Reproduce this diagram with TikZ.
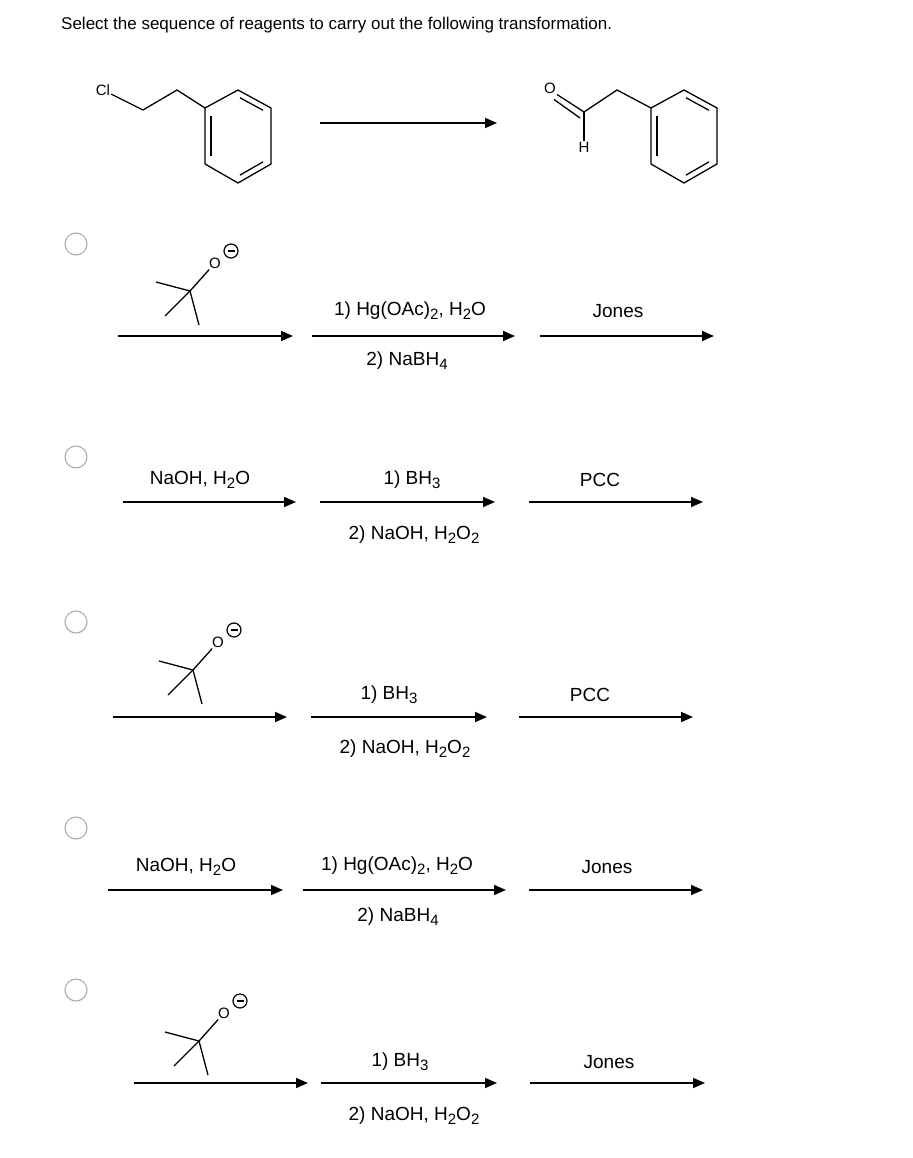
\documentclass[tikz,border=0pt]{standalone}
\usepackage{fontspec}
\setmainfont{Liberation Sans}
\usetikzlibrary{arrows.meta,calc}
\newcommand{\subs}[1]{\raisebox{-0.35ex}{\fontsize{15}{15}\selectfont #1}}
\tikzset{
  rx/.style={line width=1.6pt,-{Triangle[length=12pt,width=10pt]}},
  bond/.style={line width=1.3pt},
  lbl/.style={font=\fontsize{19}{22}\selectfont, inner sep=0pt},
  atom/.style={font=\fontsize{15}{16}\selectfont, inner sep=1pt},
  radio/.style={draw=gray!70, line width=1pt, fill=white, circle, minimum size=22pt, inner sep=0pt},
}
\newcommand{\tbuo}[3]{% name, x, y
  \coordinate (#1c) at (#2,#3);
  \draw[bond] (#1c) -- ++(-34,-9);
  \draw[bond] (#1c) -- ++(-25,25);
  \draw[bond] (#1c) -- ++(9,34);
  \node[atom] (#1o) at ($(#1c)+(25,-28)$) {O};
  \draw[bond] (#1c) -- (#1o);
  \node[draw, circle, line width=1.2pt, minimum size=14pt, inner sep=0pt] (#1m) at ($(#1c)+(41,-40)$) {};
  \draw[line width=1.5pt] ($(#1m)+(-3.5,0)$) -- ($(#1m)+(3.5,0)$);
}
\begin{document}
\begin{tikzpicture}[x=1pt,y=-1pt]
\useasboundingbox (0,0) rectangle (912,1158);
\node[anchor=west, font=\fontsize{17}{20}\selectfont, inner sep=0pt] (title) at (61,25) {Select the sequence of reagents to carry out the following transformation.};
% starting material
\node[atom] (cl) at (103,90) {Cl};
\coordinate (a1) at (143,110);
\coordinate (a2) at (177,90);
\coordinate (r1) at (205,108);
\coordinate (r0) at (238,90);
\coordinate (r5) at (271,108);
\coordinate (r4) at (271,164);
\coordinate (r3) at (238,183);
\coordinate (r2) at (205,164);
\draw[bond] (cl) -- (a1) -- (a2) -- (r1);
\draw[bond] (r0)--(r1)--(r2)--(r3)--(r4)--(r5)--cycle;
\draw[bond] ($(r1)!0.15!(r2)+(6,0)$) -- ($(r2)!0.15!(r1)+(6,0)$);
\draw[bond] ($(r3)!0.15!(r4)+(-3,-5)$) -- ($(r4)!0.15!(r3)+(-3,-5)$);
\draw[bond] ($(r5)!0.15!(r0)+(-3,5)$) -- ($(r0)!0.15!(r5)+(-3,5)$);
\coordinate (ma) at (320,123); \coordinate (mb) at (497,123);
\draw[rx] (ma) -- (mb);
% product
\node[atom] (po) at (550,88) {O};
\coordinate (pc) at (584,112);
\node[atom] (ph) at (584,147) {H};
\coordinate (p1) at (617,90);
\coordinate (s1) at (651,108);
\coordinate (s0) at (684,90);
\coordinate (s5) at (717,108);
\coordinate (s4) at (717,164);
\coordinate (s3) at (684,183);
\coordinate (s2) at (651,164);
\draw[bond] (po.south east) -- (pc);
\draw[bond] ($(po.south east)+(-3,5)$) -- ($(pc)+(-4,6)$);
\draw[bond] (pc) -- (ph) ;
\draw[bond] (pc) -- (p1) -- (s1);
\draw[bond] (s0)--(s1)--(s2)--(s3)--(s4)--(s5)--cycle;
\draw[bond] ($(s1)!0.15!(s2)+(6,0)$) -- ($(s2)!0.15!(s1)+(6,0)$);
\draw[bond] ($(s3)!0.15!(s4)+(-3,-5)$) -- ($(s4)!0.15!(s3)+(-3,-5)$);
\draw[bond] ($(s5)!0.15!(s0)+(-3,5)$) -- ($(s0)!0.15!(s5)+(-3,5)$);
% option 1
\node[radio] (o1) at (76,244) {};
\tbuo{t1}{190}{291}
\coordinate (a11) at (118,336); \coordinate (b11) at (293,336); \draw[rx] (a11)--(b11);
\coordinate (a12) at (312,336); \coordinate (b12) at (515,336); \draw[rx] (a12)--(b12);
\coordinate (a13) at (540,336); \coordinate (b13) at (714,336); \draw[rx] (a13)--(b13);
\node[lbl] (l12a) at (410,311) {1) Hg(OAc)\subs2, H\subs2O};
\node[lbl] (l12b) at (407,361) {2) NaBH\subs4};
\node[lbl] (l13) at (618,311) {Jones};
% option 2
\node[radio] (o2) at (76,457) {};
\coordinate (a21) at (123,502); \coordinate (b21) at (296,502); \draw[rx] (a21)--(b21);
\coordinate (a22) at (320,502); \coordinate (b22) at (495,502); \draw[rx] (a22)--(b22);
\coordinate (a23) at (529,502); \coordinate (b23) at (703,502); \draw[rx] (a23)--(b23);
\node[lbl] (l21) at (200,480) {NaOH, H\subs2O};
\node[lbl] (l22a) at (412,480) {1) BH\subs3};
\node[lbl] (l22b) at (414,535) {2) NaOH, H\subs2O\subs2};
\node[lbl] (l23) at (600,480) {PCC};
% option 3
\node[radio] (o3) at (76,622) {};
\tbuo{t3}{193}{670}
\coordinate (a31) at (113,717); \coordinate (b31) at (287,717); \draw[rx] (a31)--(b31);
\coordinate (a32) at (311,717); \coordinate (b32) at (487,717); \draw[rx] (a32)--(b32);
\coordinate (a33) at (519,717); \coordinate (b33) at (693,717); \draw[rx] (a33)--(b33);
\node[lbl] (l32a) at (389,695) {1) BH\subs3};
\node[lbl] (l32b) at (405,749) {2) NaOH, H\subs2O\subs2};
\node[lbl] (l33) at (590,695) {PCC};
% option 4
\node[radio] (o4) at (76,828) {};
\coordinate (a41) at (108,890); \coordinate (b41) at (283,890); \draw[rx] (a41)--(b41);
\coordinate (a42) at (303,890); \coordinate (b42) at (506,890); \draw[rx] (a42)--(b42);
\coordinate (a43) at (529,890); \coordinate (b43) at (703,890); \draw[rx] (a43)--(b43);
\node[lbl] (l41) at (186,867) {NaOH, H\subs2O};
\node[lbl] (l42a) at (397,866) {1) Hg(OAc)\subs2, H\subs2O};
\node[lbl] (l42b) at (398,917) {2) NaBH\subs4};
\node[lbl] (l43) at (607,867) {Jones};
% option 5
\node[radio] (o5) at (76,990) {};
\tbuo{t5}{199}{1041}
\coordinate (a51) at (134,1083); \coordinate (b51) at (308,1083); \draw[rx] (a51)--(b51);
\coordinate (a52) at (321,1083); \coordinate (b52) at (497,1083); \draw[rx] (a52)--(b52);
\coordinate (a53) at (530,1083); \coordinate (b53) at (705,1083); \draw[rx] (a53)--(b53);
\node[lbl] (l52a) at (400,1062) {1) BH\subs3};
\node[lbl] (l52b) at (414,1116) {2) NaOH, H\subs2O\subs2};
\node[lbl] (l53) at (609,1062) {Jones};
\end{tikzpicture}
\end{document}
